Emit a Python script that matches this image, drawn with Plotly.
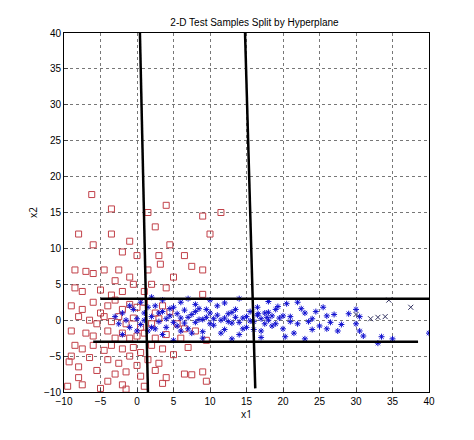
import plotly.graph_objects as go

red_x = [-6.2,-3.5,1.5,4,9,11.5,-8,-3.5,2.5,10,-1,4.5,-6,-2,0,3,7.5,9,-8.5,-7,-6,-4.5,-2.5,1.5,3.2,5,6.5,-1,-3,2,4,-8.5,-7.5,-5,-3.5,-2,-0.5,1,9,
 -9,-7.5,-6,-5,-4,-3,-2,-1,0,1,2.5,3.5,4.5,-8,-6.5,-5.5,-4.5,-3.5,-2.5,-1.5,-0.5,0.5,2,3,5.5,6.5,8,-9,-7,-6,-4,-3,-2,-1,0,1,2.5,4,6,9.5,
 -8.5,-7.5,-6,-4.5,-3.5,-2,-0.5,0.5,2,3.5,5,7,-9,-9.3,-8,-6.5,-4,-2.5,-1,0,1.5,3,-5.5,-3,-1.5,0.5,2.5,4,6.5,7.5,9,-8,-4,-2,1,3.5,9.5,-9.5,-7.5,-5,-1.5]
red_y = [17.5,15.5,15,16,14.5,15,12,12,13,12,11,10.5,10.5,9.5,9,9,7.5,7,7,6.8,6.5,7,7,7,7.8,6,9,6,5.5,5,4.5,4.5,4,4.2,3.5,4,5,4,3.6,
 2,1.5,2.5,1,2,2.8,1.5,2.2,1.8,2.5,1,2,1.2,0.5,0,-0.5,0.5,-0.2,0.5,-0.5,0.3,-1,-0.5,0.2,-0.5,-1.2,-1.5,-1.5,-1.8,-2.2,-1.5,-2.5,-1.8,-2.5,-2.2,-1.8,-2.5,-2,-2.5,-2.8,
 -3.5,-4,-3.5,-4.2,-3.5,-4,-3.8,-4.5,-3.5,-4,-4.8,-3.8,-5,-5.8,-6.5,-5.2,-5.5,-6,-5,-6.3,-5.5,-6,-7,-7.5,-7.2,-7.8,-7,-8,-7.5,-7.6,-7.2,-8,-8.5,-9,-9.2,-8.8,-8.5,-9.2,-9,-9.5,-9.6]

blue_x = [-3,-2.5,-2,-1.5,-1,-0.5,0,0.5,1,1.5,2,2.5,3,3.5,4,4.5,5,5.5,6,6.5,7,7.5,8,8.5,9,9.5,10,10.5,11,11.5,12,12.5,13,13.5,14,14.5,15,15.5,16,16.5,17,17.5,18,18.5,19,19.5,20,21,22,23,24,25,26,
 1,2,3,4,5,6,7,8,9,10,11,12,13,14,15,16,17,18,19,20,2.5,3.5,4.5,5.5,6.5,7.5,8.5,9.5,10.5,11.5,12.5,13.5,14.5,15.5,16.5,17.5,18.5,0.5,1.5,6,8,10,12,14,18,13,5,9,17,-2,-1,0,
 21.5,22.5,23.5,24.5,26.5,27,27.5,28,29,30,31,30.5,30,30.5,33,33.5,35,40,16.6,17.8,19.3,20.5,22,21,20.3,24,25.5,26,23,2,3.5,7]
blue_y = [0.5,-0.5,1,0,-1,1.5,0.2,-0.6,1,-1.5,0.5,2,-0.2,1.2,-1,0.6,1.8,-0.8,0.3,1.4,-1.2,0.8,-0.3,1.6,-1.6,0.4,1,-0.7,2,0,-1.3,0.9,-0.4,1.5,-2,0.3,-1,1.2,-0.2,0.7,-1.5,1,0,-0.8,1.5,0.3,-1.2,0.5,-0.5,1,0.2,-0.8,0.6,
 0,-1,1,0.2,-0.3,-1.5,0.4,1.2,0.1,-0.5,0.7,0.3,1.1,-0.3,0.5,-1.3,0.2,1.1,-0.5,0.6,-1.2,-2,1.6,0.9,-0.4,-1.8,0.1,1.5,0.2,-1.8,-0.2,0.4,-1.2,-0.1,1.8,-0.5,0.6,2.5,1.8,2.5,2.2,2.8,2.4,3,2.6,-2.6,-2.8,-2.5,-2.4,-2,2,-1.5,
 -1.8,1.6,-0.2,1.2,-0.3,0.8,-1.5,-0.6,0.9,-0.5,-2.2,-1.5,1.5,0.5,-3.2,-2.3,-2.6,-1.8,0.9,0.4,1.9,2.3,2.5,-0.2,-2.3,-1.3,1.8,-1.2,-2.6,3.2,2.8,3]

cross_x = [37.5,32,33,34,34.5,30]
cross_y = [1.8,0.2,0.4,0.5,2.8,0.8]

# hyperplane splits
split_lines = [
    ([0.4, 1.5], [40, -10]),
    ([14.8, 16.2], [40, -9.5]),
    ([-5, 40], [3, 3]),
    ([-6, 38.5], [-3, -3]),
]

fig = go.Figure()
fig.add_trace(go.Scatter(x=red_x, y=red_y, mode="markers",
    marker=dict(symbol="square-open", size=6, color="#b8202a", line=dict(width=1)), opacity=0.85))
fig.add_trace(go.Scatter(x=blue_x, y=blue_y, mode="markers",
    marker=dict(symbol="asterisk-open", size=5, color="#1010d0", line=dict(width=1, color="#1010d0"))))
fig.add_trace(go.Scatter(x=cross_x, y=cross_y, mode="markers",
    marker=dict(symbol="x-thin-open", size=5, color="#303060", line=dict(width=1, color="#303060"))))
for lx, ly in split_lines:
    fig.add_trace(go.Scatter(x=lx, y=ly, mode="lines", line=dict(color="black", width=2.5)))

ax = dict(showline=True, linecolor="black", mirror=True, ticks="inside", ticklen=4,
          showgrid=True, gridcolor="#777", griddash="dot", gridwidth=0.8, zeroline=False,
          tickfont=dict(size=10, family="Liberation Sans", color="black"))
fig.update_layout(
    width=474, height=440, plot_bgcolor="white", paper_bgcolor="white", showlegend=False,
    margin=dict(l=56, r=53, t=25, b=56),
    title=dict(text="2-D Test Samples Split by Hyperplane", x=0.52, y=0.975,
               font=dict(size=10, family="Liberation Sans", color="black")),
    xaxis=dict(ax, range=[-10, 40], dtick=5, title=dict(text="x1", standoff=2, font=dict(size=10, color="black"))),
    yaxis=dict(ax, range=[-10, 40], dtick=5, title=dict(text="x2", standoff=4, font=dict(size=10, color="black"))),
)
fig.write_html("out.html")
